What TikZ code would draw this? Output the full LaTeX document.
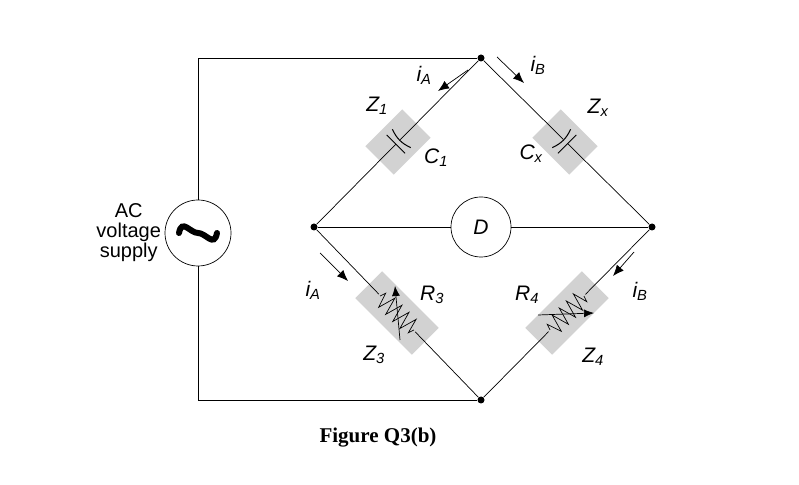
\documentclass[tikz,border=0pt]{standalone}
\usepackage{fontspec}
\setmainfont{Liberation Sans}
\newfontfamily\capfont{Liberation Serif}
\usetikzlibrary{arrows.meta,positioning}
\tikzset{
  dot/.style={circle, fill, inner sep=0pt, minimum size=7pt},
  pkg/.style={fill=gray!35, draw=none, inner sep=0pt},
  lbl/.style={font=\fontsize{21}{23}\selectfont\itshape},
  cur/.style={-{Latex[length=11pt,width=9pt]}, line width=0.7pt},
}
\newcommand{\capsym}{%
  \fill[gray!35] (-3,-13) rectangle (3,13);
  \draw[line width=1pt] (-3,-13) -- (-3,13);
  \draw[line width=1pt] (5,-13) to[bend left=20] (5,13);
}
\newcommand{\ressym}{%
  \fill[gray!35] (-26,-10) rectangle (26,10);
  \draw (-24,0) -- (-22,6) -- (-17,-9) -- (-12,9) -- (-7,-9) -- (-2,9) -- (3,-9) -- (8,9) -- (13,-9) -- (18,9) -- (22,-6) -- (24,0);
}
\begin{document}
\begin{tikzpicture}[x=1pt, y=1pt, line width=0.7pt]
  \useasboundingbox (0,0) rectangle (799,484);
  % packages
  \node[pkg, rotate=45, minimum width=52pt, minimum height=40pt] (c1) at (398,342) {};
  \node[pkg, rotate=-45, minimum width=52pt, minimum height=40pt] (cx) at (565,342) {};
  \node[pkg, rotate=-45, minimum width=80pt, minimum height=38pt] (r3) at (397,171) {};
  \node[pkg, rotate=45, minimum width=80pt, minimum height=38pt] (r4) at (567,171) {};
  % junctions
  \node[dot] (top) at (481,426) {};
  \node[dot] (left) at (314,257) {};
  \node[dot] (right) at (652,257) {};
  \node[dot] (bot) at (481,84) {};
  % bridge arms
  \draw (top) -- (left) -- (bot) -- (right) -- (top);
  \begin{scope}[shift={(398,342)}, rotate=45]\capsym\end{scope}
  \begin{scope}[shift={(565,342)}, rotate=135]\capsym\end{scope}
  \begin{scope}[shift={(397,171)}, rotate=-45]\ressym\end{scope}
  \begin{scope}[shift={(567,171)}, rotate=45]\ressym\end{scope}
  \draw[-{Latex[length=10pt,width=8pt]}] (400,144) -- (395,198);
  \draw[-{Latex[length=10pt,width=8pt]}] (538,169) -- (594,171);
  % detector
  \node[draw, circle, minimum size=60pt, inner sep=0pt, lbl] (det) at (481,257) {D};
  \draw (left) -- (det.west);
  \draw (det.east) -- (right);
  % supply
  \node[draw, circle, minimum size=66pt, inner sep=0pt] (src) at (198,251) {};
  \draw[line width=6pt, line cap=round] ([xshift=-19pt]src.center) .. controls (182,266) and (190,251) .. (src.center) .. controls (206,251) and (214,236) .. ([xshift=19pt]src.center);
  \coordinate (tl) at (198,426);
  \coordinate (bl) at (198,84);
  \draw (top) -- (tl) -- (src.north);
  \draw (src.south) -- (bl) -- (bot);
  \node[font=\fontsize{20}{20}\selectfont, align=center, left=0pt of src] {AC\\voltage\\supply};
  % currents
  \node[coordinate] (a1) at (468,414) {}; \node[coordinate] (a2) at (438,393) {};
  \draw[cur] (a1) -- (a2);
  \node[coordinate] (b1) at (497,427) {}; \node[coordinate] (b2) at (524,401) {};
  \draw[cur] (b1) -- (b2);
  \node[coordinate] (a3) at (320,231) {}; \node[coordinate] (a4) at (348,203) {};
  \draw[cur] (a3) -- (a4);
  \node[coordinate] (b3) at (634,232) {}; \node[coordinate] (b4) at (613,208) {};
  \draw[cur] (b3) -- (b4);
  % labels
  \node[lbl] at (424,409) {i\textsubscript{A}};
  \node[lbl] at (538,419) {i\textsubscript{B}};
  \node[lbl] at (313,194) {i\textsubscript{A}};
  \node[lbl] at (640,193) {i\textsubscript{B}};
  \node[lbl] at (377,378) {Z\textsubscript{1}};
  \node[lbl] at (436,326) {C\textsubscript{1}};
  \node[lbl] at (531,330) {C\textsubscript{x}};
  \node[lbl] at (598,376) {Z\textsubscript{x}};
  \node[lbl] at (432,189) {R\textsubscript{3}};
  \node[lbl] at (374,129) {Z\textsubscript{3}};
  \node[lbl] at (527,189) {R\textsubscript{4}};
  \node[lbl] at (593,127) {Z\textsubscript{4}};
  \node[font=\capfont\bfseries\fontsize{21}{23}\selectfont] (cap) at (378,46) {Figure Q3(b)};
\end{tikzpicture}
\end{document}
